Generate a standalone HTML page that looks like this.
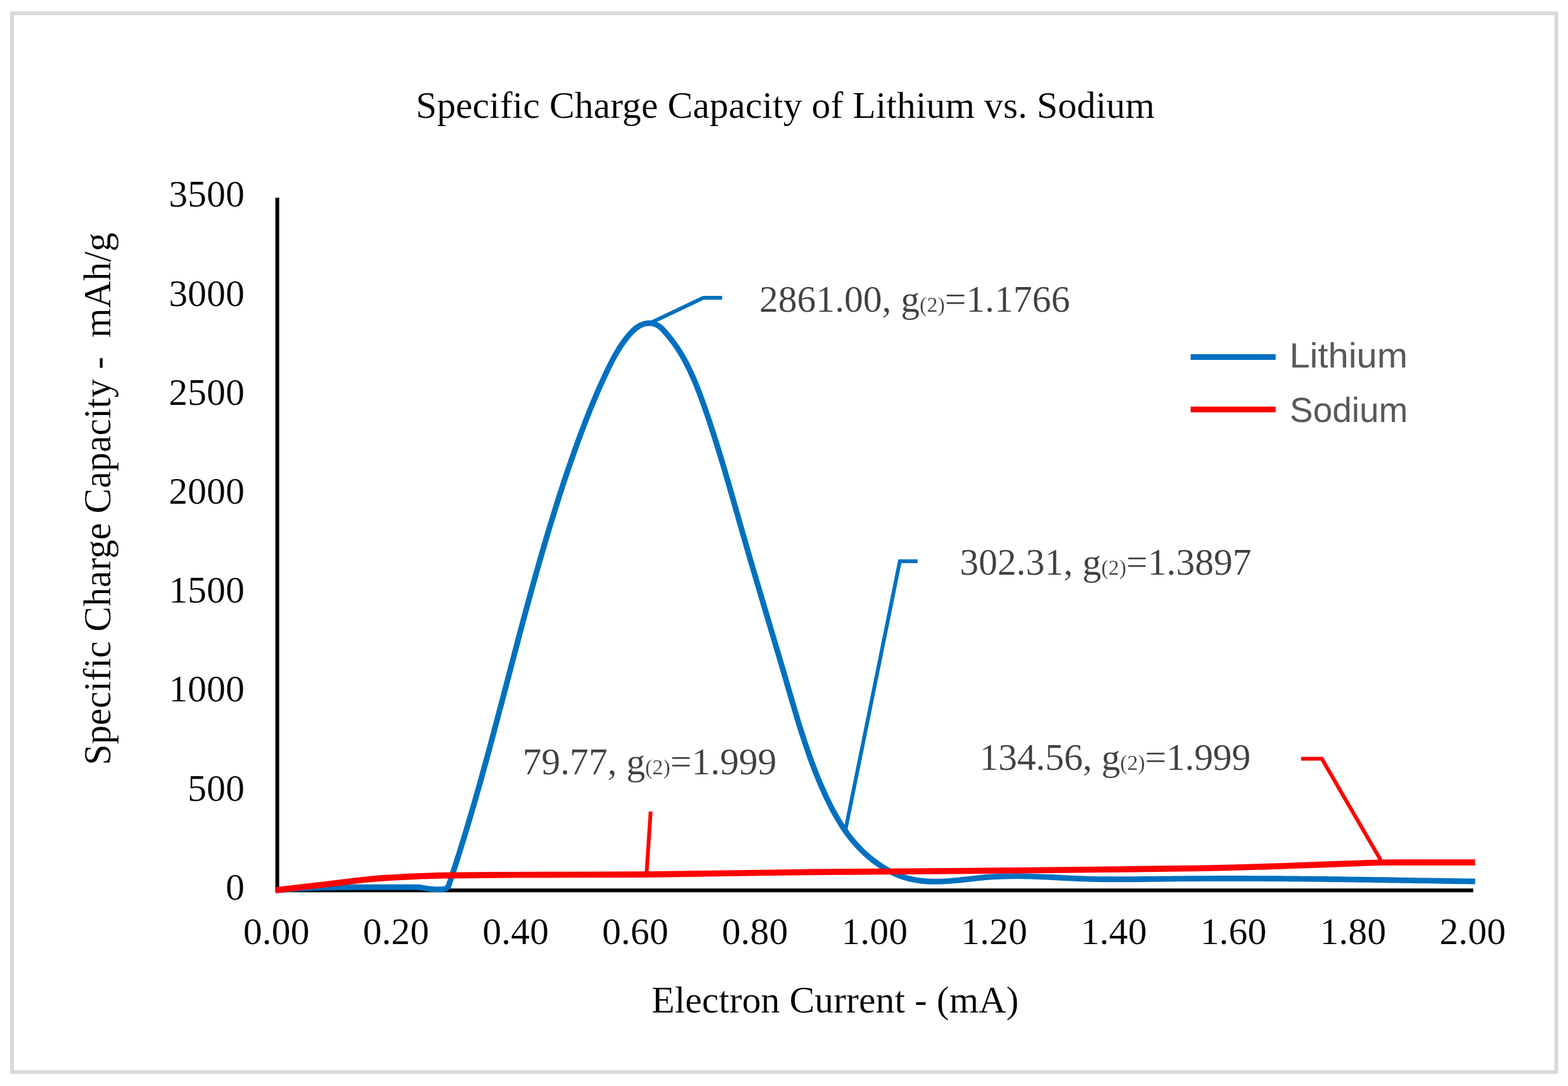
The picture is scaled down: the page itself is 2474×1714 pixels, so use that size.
<!DOCTYPE html>
<html lang="en">
<head>
<meta charset="utf-8">
<title>Specific Charge Capacity of Lithium vs. Sodium</title>
<style>
html,body{margin:0;padding:0;background:#fff;overflow:hidden}
svg{display:block}
text{white-space:pre}
</style>
</head>
<body>
<svg width="2474" height="1714" viewBox="0 0 2474 1714" role="img" aria-label="Line chart: Specific Charge Capacity of Lithium vs. Sodium">
<rect x="0" y="0" width="2474" height="1714" fill="#ffffff"/>
<!-- chart frame -->
<rect x="19" y="21" width="2436.5" height="1671" fill="none" stroke="#d9d9d9" stroke-width="6"/>
<!-- titles and axis labels -->
<g font-family="'Liberation Serif','DejaVu Serif',serif" font-size="59.8" fill="#000000" stroke="#ffffff" stroke-width="0.20">
<text id="title" x="655.9" y="185.6" textLength="1166" lengthAdjust="spacing">Specific Charge Capacity of Lithium vs. Sodium</text>
<text id="ytitle" transform="translate(173.6,1207.8) rotate(-90) scale(1,1.03)" textLength="840.8" lengthAdjust="spacing" xml:space="preserve">Specific Charge Capacity -  mAh/g</text>
<text id="xtitle" x="1027.9" y="1597.5" textLength="579.5" lengthAdjust="spacing">Electron Current - (mA)</text>
<text class="yt" x="385.8" y="1419.7" text-anchor="end">0</text>
<text class="yt" x="385.8" y="1263.5" text-anchor="end">500</text>
<text class="yt" x="385.8" y="1107.3" text-anchor="end">1000</text>
<text class="yt" x="385.8" y="951.1" text-anchor="end">1500</text>
<text class="yt" x="385.8" y="795.0" text-anchor="end">2000</text>
<text class="yt" x="385.8" y="638.8" text-anchor="end">2500</text>
<text class="yt" x="385.8" y="482.6" text-anchor="end">3000</text>
<text class="yt" x="385.8" y="326.4" text-anchor="end">3500</text>
<text class="xt" x="436.0" y="1489.8" text-anchor="middle">0.00</text>
<text class="xt" x="624.8" y="1489.8" text-anchor="middle">0.20</text>
<text class="xt" x="813.5" y="1489.8" text-anchor="middle">0.40</text>
<text class="xt" x="1002.3" y="1489.8" text-anchor="middle">0.60</text>
<text class="xt" x="1191.0" y="1489.8" text-anchor="middle">0.80</text>
<text class="xt" x="1379.8" y="1489.8" text-anchor="middle">1.00</text>
<text class="xt" x="1568.5" y="1489.8" text-anchor="middle">1.20</text>
<text class="xt" x="1757.3" y="1489.8" text-anchor="middle">1.40</text>
<text class="xt" x="1946.0" y="1489.8" text-anchor="middle">1.60</text>
<text class="xt" x="2134.8" y="1489.8" text-anchor="middle">1.80</text>
<text class="xt" x="2323.5" y="1489.8" text-anchor="middle">2.00</text>
</g>
<!-- axes -->
<path d="M437.5,311.9 V1405.2" stroke="#000" stroke-width="6.0" fill="none"/>
<path d="M434.5,1405.2 H2324.5" stroke="#000" stroke-width="6.0" fill="none"/>
<!-- series: Lithium -->
<path id="li" d="M434.8,1405.2 C440.7,1404.8 457.5,1403.3 470.0,1402.6 C482.5,1401.9 495.0,1401.2 510.0,1400.8 C525.0,1400.4 543.3,1400.3 560.0,1400.2 C576.7,1400.1 595.3,1400.1 610.0,1400.1 C624.7,1400.1 639.3,1400.0 648.0,1400.1 C656.7,1400.2 657.7,1400.1 662.0,1400.5 C666.3,1400.9 670.0,1401.9 674.0,1402.4 C678.0,1402.9 682.2,1403.4 686.0,1403.6 C689.8,1403.8 694.2,1403.8 697.0,1403.6 C699.8,1403.4 701.3,1403.3 703.0,1402.6 C704.7,1401.9 706.7,1399.7 707.4,1399.2 C708.1,1397.1 710.2,1390.9 711.5,1386.8 C712.9,1382.7 714.3,1378.6 715.6,1374.4 C717.0,1370.3 718.3,1366.2 719.6,1362.1 C720.9,1357.9 722.3,1353.8 723.6,1349.7 C724.9,1345.5 726.2,1341.4 727.4,1337.2 C728.7,1333.1 730.0,1328.9 731.3,1324.8 C732.6,1320.7 733.8,1316.5 735.1,1312.3 C736.3,1308.2 737.6,1304.0 738.8,1299.9 C740.0,1295.7 741.3,1291.6 742.5,1287.4 C743.7,1283.2 744.9,1279.1 746.1,1274.9 C747.4,1270.7 748.6,1266.6 749.8,1262.4 C750.9,1258.2 752.1,1254.1 753.3,1249.9 C754.5,1245.7 755.7,1241.5 756.9,1237.4 C758.0,1233.2 759.2,1229.0 760.4,1224.8 C761.5,1220.6 762.7,1216.5 763.8,1212.3 C765.0,1208.1 766.1,1203.9 767.3,1199.7 C768.4,1195.5 769.5,1191.3 770.7,1187.2 C771.8,1183.0 772.9,1178.8 774.1,1174.6 C775.2,1170.4 776.3,1166.2 777.4,1162.0 C778.6,1157.8 779.7,1153.6 780.8,1149.4 C781.9,1145.2 783.0,1141.1 784.1,1136.9 C785.2,1132.7 786.3,1128.5 787.4,1124.3 C788.5,1120.1 789.7,1115.9 790.8,1111.7 C791.9,1107.5 793.0,1103.3 794.1,1099.1 C795.2,1094.9 796.3,1090.7 797.4,1086.5 C798.5,1082.3 799.6,1078.1 800.7,1073.9 C801.8,1069.7 802.9,1065.5 804.0,1061.3 C805.1,1057.1 806.2,1052.9 807.3,1048.7 C808.4,1044.5 809.5,1040.3 810.6,1036.1 C811.7,1031.9 812.8,1027.7 813.9,1023.5 C815.0,1019.4 816.1,1015.2 817.2,1011.0 C818.3,1006.8 819.4,1002.6 820.5,998.4 C821.6,994.2 822.8,990.0 823.9,985.8 C825.0,981.6 826.1,977.4 827.2,973.2 C828.4,969.0 829.5,964.9 830.6,960.7 C831.8,956.5 832.9,952.3 834.0,948.1 C835.2,943.9 836.3,939.7 837.5,935.5 C838.6,931.4 839.8,927.2 840.9,923.0 C842.1,918.8 843.3,914.6 844.4,910.5 C845.6,906.3 846.8,902.1 848.0,897.9 C849.1,893.8 850.3,889.6 851.5,885.4 C852.7,881.2 853.9,877.1 855.1,872.9 C856.3,868.7 857.5,864.6 858.8,860.4 C860.0,856.2 861.2,852.1 862.4,847.9 C863.7,843.8 864.9,839.6 866.2,835.5 C867.4,831.3 868.7,827.1 870.0,823.0 C871.2,818.8 872.5,814.7 873.8,810.6 C875.1,806.4 876.4,802.3 877.7,798.1 C879.0,794.0 880.3,789.9 881.6,785.7 C882.9,781.6 884.3,777.5 885.6,773.3 C886.9,769.2 888.3,765.1 889.6,761.0 C891.0,756.9 892.4,752.7 893.8,748.6 C895.2,744.5 896.5,740.4 898.0,736.3 C899.4,732.2 900.8,728.1 902.2,724.0 C903.6,719.9 905.1,715.8 906.5,711.7 C908.0,707.6 909.4,703.5 910.9,699.5 C912.4,695.4 913.9,691.3 915.4,687.2 C916.9,683.2 918.4,679.1 920.0,675.1 C921.5,671.0 923.1,667.0 924.6,662.9 C926.2,658.9 927.8,654.8 929.4,650.8 C931.0,646.8 932.7,642.8 934.3,638.7 C936.0,634.7 937.6,630.7 939.3,626.7 C941.0,622.7 942.8,618.8 944.5,614.8 C946.2,610.8 948.0,606.8 949.8,602.9 C951.6,598.9 953.4,595.0 955.2,591.1 C957.1,587.1 958.9,583.2 960.9,579.3 C962.8,575.4 964.7,571.5 966.7,567.7 C968.8,563.9 970.8,560.1 973.1,556.3 C975.3,552.6 977.5,548.9 979.9,545.3 C982.4,541.7 984.9,538.1 987.5,534.7 C990.2,531.3 992.9,527.9 996.0,524.8 C999.0,521.7 1002.2,518.6 1005.7,516.3 C1009.3,513.9 1013.4,511.8 1017.5,510.8 C1021.6,509.9 1026.3,509.6 1030.4,510.5 C1034.5,511.4 1038.4,513.8 1041.8,516.3 C1045.3,518.9 1048.0,522.5 1050.8,525.7 C1053.7,529.0 1056.5,532.3 1059.1,535.8 C1061.8,539.2 1064.3,542.7 1066.7,546.3 C1069.2,549.9 1071.5,553.5 1073.8,557.2 C1076.0,560.9 1078.2,564.7 1080.3,568.5 C1082.4,572.3 1084.4,576.2 1086.3,580.1 C1088.2,584.0 1090.0,587.9 1091.8,591.9 C1093.6,595.8 1095.3,599.8 1097.0,603.8 C1098.7,607.8 1100.3,611.8 1101.8,615.9 C1103.4,619.9 1104.9,624.0 1106.4,628.1 C1107.9,632.1 1109.4,636.2 1110.8,640.3 C1112.3,644.4 1113.7,648.5 1115.1,652.6 C1116.5,656.7 1117.9,660.8 1119.2,664.9 C1120.6,669.1 1122.0,673.2 1123.3,677.3 C1124.7,681.4 1126.0,685.6 1127.3,689.7 C1128.6,693.8 1129.9,698.0 1131.2,702.1 C1132.5,706.3 1133.8,710.4 1135.1,714.5 C1136.3,718.7 1137.6,722.8 1138.8,727.0 C1140.1,731.2 1141.3,735.3 1142.6,739.5 C1143.8,743.6 1145.0,747.8 1146.2,752.0 C1147.4,756.1 1148.7,760.3 1149.9,764.5 C1151.1,768.6 1152.3,772.8 1153.5,777.0 C1154.7,781.1 1155.9,785.3 1157.1,789.5 C1158.2,793.7 1159.4,797.8 1160.6,802.0 C1161.8,806.2 1163.0,810.3 1164.2,814.5 C1165.4,818.7 1166.5,822.9 1167.7,827.0 C1168.9,831.2 1170.1,835.4 1171.3,839.6 C1172.5,843.7 1173.7,847.9 1174.9,852.1 C1176.1,856.2 1177.3,860.4 1178.5,864.6 C1179.7,868.7 1180.9,872.9 1182.1,877.1 C1183.3,881.2 1184.5,885.4 1185.8,889.6 C1187.0,893.7 1188.2,897.9 1189.4,902.1 C1190.7,906.2 1191.9,910.4 1193.1,914.5 C1194.3,918.7 1195.6,922.9 1196.8,927.0 C1198.0,931.2 1199.3,935.4 1200.5,939.5 C1201.7,943.7 1203.0,947.8 1204.2,952.0 C1205.4,956.2 1206.7,960.3 1207.9,964.5 C1209.1,968.6 1210.4,972.8 1211.6,976.9 C1212.8,981.1 1214.1,985.3 1215.3,989.4 C1216.5,993.6 1217.8,997.7 1219.0,1001.9 C1220.3,1006.1 1221.5,1010.2 1222.7,1014.4 C1224.0,1018.5 1225.2,1022.7 1226.4,1026.9 C1227.7,1031.0 1228.9,1035.2 1230.1,1039.3 C1231.3,1043.5 1232.6,1047.7 1233.8,1051.8 C1235.0,1056.0 1236.2,1060.2 1237.5,1064.3 C1238.7,1068.5 1239.9,1072.6 1241.1,1076.8 C1242.3,1081.0 1243.5,1085.1 1244.7,1089.3 C1246.0,1093.5 1247.2,1097.6 1248.4,1101.8 C1249.6,1106.0 1250.8,1110.1 1252.1,1114.3 C1253.3,1118.5 1254.5,1122.6 1255.8,1126.8 C1257.0,1130.9 1258.3,1135.1 1259.5,1139.2 C1260.8,1143.4 1262.1,1147.5 1263.4,1151.7 C1264.7,1155.8 1266.0,1159.9 1267.4,1164.0 C1268.7,1168.2 1270.1,1172.3 1271.5,1176.4 C1272.9,1180.5 1274.3,1184.6 1275.7,1188.7 C1277.1,1192.8 1278.6,1196.9 1280.1,1201.0 C1281.6,1205.0 1283.1,1209.1 1284.7,1213.1 C1286.2,1217.2 1287.8,1221.2 1289.4,1225.3 C1291.1,1229.3 1292.7,1233.3 1294.4,1237.3 C1296.1,1241.3 1297.9,1245.3 1299.7,1249.2 C1301.4,1253.2 1303.3,1257.1 1305.1,1261.0 C1307.0,1264.9 1308.9,1268.8 1310.9,1272.7 C1312.9,1276.5 1314.9,1280.4 1317.0,1284.2 C1319.1,1288.0 1321.3,1291.7 1323.5,1295.4 C1325.8,1299.2 1328.1,1302.8 1330.5,1306.5 C1332.9,1310.1 1335.3,1313.6 1337.9,1317.1 C1340.5,1320.6 1343.2,1324.0 1346.0,1327.3 C1348.8,1330.6 1351.7,1333.9 1354.7,1337.0 C1357.7,1340.2 1360.7,1343.2 1363.9,1346.2 C1367.1,1349.1 1370.4,1352.0 1373.7,1354.8 C1377.1,1357.5 1380.5,1360.2 1384.0,1362.7 C1387.6,1365.2 1391.2,1367.6 1394.9,1369.8 C1398.6,1372.1 1402.4,1374.2 1406.3,1376.2 C1410.1,1378.1 1414.1,1379.9 1418.1,1381.5 C1422.2,1383.1 1426.3,1384.5 1430.4,1385.7 C1434.6,1386.9 1438.8,1387.9 1443.1,1388.7 C1447.4,1389.5 1451.7,1390.1 1456.0,1390.5 C1460.3,1390.9 1464.7,1391.2 1469.0,1391.3 C1473.3,1391.4 1477.7,1391.4 1482.0,1391.3 C1486.3,1391.2 1490.7,1390.9 1495.0,1390.6 C1499.3,1390.4 1503.7,1390.0 1508.0,1389.6 C1512.3,1389.2 1516.6,1388.7 1520.9,1388.3 C1525.2,1387.8 1529.5,1387.3 1533.9,1386.8 C1538.2,1386.4 1542.5,1385.9 1546.8,1385.5 C1551.1,1385.0 1555.4,1384.6 1559.8,1384.3 C1564.1,1384.0 1568.4,1383.7 1572.8,1383.5 C1577.1,1383.2 1581.4,1383.1 1585.8,1383.0 C1590.1,1382.9 1594.4,1382.8 1598.8,1382.8 C1603.1,1382.8 1607.5,1382.8 1611.8,1382.8 C1616.1,1382.9 1620.5,1383.0 1624.8,1383.1 C1629.1,1383.3 1633.5,1383.4 1637.8,1383.6 C1642.1,1383.7 1646.5,1383.9 1650.8,1384.1 C1655.2,1384.3 1659.5,1384.6 1663.8,1384.8 C1668.2,1385.0 1672.5,1385.2 1676.8,1385.5 C1681.1,1385.7 1685.5,1385.9 1689.8,1386.1 C1694.2,1386.3 1698.5,1386.5 1702.8,1386.7 C1707.2,1386.8 1711.5,1387.0 1715.8,1387.1 C1720.2,1387.3 1724.5,1387.4 1728.8,1387.5 C1733.2,1387.5 1737.5,1387.6 1741.9,1387.7 C1746.2,1387.7 1750.5,1387.8 1754.9,1387.8 C1759.2,1387.8 1763.5,1387.8 1767.9,1387.8 C1772.2,1387.8 1776.6,1387.8 1780.9,1387.8 C1785.2,1387.8 1789.6,1387.7 1793.9,1387.7 C1798.3,1387.6 1802.6,1387.6 1806.9,1387.5 C1811.3,1387.5 1815.6,1387.4 1819.9,1387.4 C1824.3,1387.3 1828.6,1387.3 1833.0,1387.2 C1837.3,1387.2 1841.6,1387.1 1846.0,1387.1 C1850.3,1387.0 1854.7,1387.0 1859.0,1386.9 C1863.3,1386.9 1867.7,1386.8 1872.0,1386.8 C1876.4,1386.8 1880.7,1386.7 1885.0,1386.7 C1889.4,1386.7 1893.7,1386.7 1898.0,1386.6 C1902.4,1386.6 1906.7,1386.6 1911.1,1386.6 C1915.4,1386.6 1919.7,1386.5 1924.1,1386.5 C1928.4,1386.5 1932.8,1386.5 1937.1,1386.5 C1941.4,1386.5 1945.8,1386.5 1950.1,1386.5 C1954.4,1386.5 1958.8,1386.5 1963.1,1386.5 C1967.5,1386.6 1971.8,1386.6 1976.1,1386.6 C1980.5,1386.6 1984.8,1386.6 1989.2,1386.6 C1993.5,1386.7 1997.8,1386.7 2002.2,1386.7 C2006.5,1386.7 2010.8,1386.8 2015.2,1386.8 C2019.5,1386.8 2023.9,1386.8 2028.2,1386.9 C2032.5,1386.9 2036.9,1387.0 2041.2,1387.0 C2045.6,1387.0 2049.9,1387.1 2054.2,1387.1 C2058.6,1387.2 2062.9,1387.2 2067.3,1387.2 C2071.6,1387.3 2075.9,1387.3 2080.3,1387.4 C2084.6,1387.4 2088.9,1387.5 2093.3,1387.5 C2097.6,1387.6 2102.0,1387.7 2106.3,1387.7 C2110.6,1387.8 2115.0,1387.8 2119.3,1387.9 C2123.7,1387.9 2128.0,1388.0 2132.3,1388.1 C2136.7,1388.1 2141.0,1388.2 2145.3,1388.3 C2149.7,1388.3 2154.0,1388.4 2158.4,1388.4 C2162.7,1388.5 2167.0,1388.6 2171.4,1388.6 C2175.7,1388.7 2180.0,1388.8 2184.4,1388.8 C2188.7,1388.9 2193.1,1389.0 2197.4,1389.0 C2201.7,1389.1 2206.1,1389.2 2210.4,1389.3 C2214.8,1389.3 2219.1,1389.4 2223.4,1389.5 C2227.8,1389.5 2232.1,1389.6 2236.4,1389.7 C2240.8,1389.7 2245.1,1389.8 2249.5,1389.9 C2253.8,1390.0 2258.1,1390.0 2262.5,1390.1 C2266.8,1390.2 2271.1,1390.2 2275.5,1390.3 C2279.8,1390.4 2284.2,1390.5 2288.5,1390.5 C2292.8,1390.6 2297.2,1390.7 2301.5,1390.7 C2305.9,1390.8 2310.2,1390.9 2314.5,1390.9 C2318.9,1391.0 2325.4,1391.1 2327.5,1391.1" stroke="#0070c0" stroke-width="8.9" fill="none" stroke-linejoin="round" stroke-linecap="butt"/>
<!-- series: Sodium -->
<path id="na" d="M434.8,1404.9 C447.3,1403.5 485.5,1399.1 510.0,1396.2 C534.5,1393.3 560.3,1389.8 582.0,1387.7 C603.7,1385.7 619.3,1384.9 640.0,1383.9 C660.7,1382.9 669.3,1382.1 706.0,1381.6 C742.7,1381.0 807.3,1380.8 860.0,1380.6 C912.7,1380.3 952.0,1380.8 1022.0,1380.1 C1092.0,1379.4 1200.3,1377.3 1280.0,1376.4 C1359.7,1375.5 1430.0,1375.4 1500.0,1374.8 C1570.0,1374.2 1633.3,1373.6 1700.0,1372.8 C1766.7,1372.0 1850.0,1371.1 1900.0,1370.2 C1950.0,1369.3 1968.2,1368.6 2000.0,1367.6 C2031.8,1366.6 2066.0,1365.3 2091.0,1364.4 C2116.0,1363.5 2134.7,1362.7 2150.0,1362.2 C2165.3,1361.7 2169.7,1361.4 2183.0,1361.2 C2196.3,1361.0 2205.9,1361.1 2230.0,1361.1 C2254.1,1361.1 2311.1,1361.1 2327.3,1361.1" stroke="#ff0000" stroke-width="9.6" fill="none" stroke-linejoin="round" stroke-linecap="butt"/>
<!-- leader lines -->
<path d="M1023.5,511 L1109.7,470 H1139.4" stroke="#0070c0" stroke-width="6.0" fill="none"/>
<path d="M1334,1310 L1419.8,885.7 H1447.7" stroke="#0070c0" stroke-width="6.0" fill="none"/>
<path d="M1026.6,1280.8 L1020.2,1378" stroke="#ff0000" stroke-width="6.0" fill="none"/>
<path d="M2052.8,1197.6 H2085.6 L2180,1360" stroke="#ff0000" stroke-width="6.0" fill="none"/>
<!-- data labels -->
<g font-family="'Liberation Serif','DejaVu Serif',serif" font-size="59.8" fill="#404040" stroke="#ffffff" stroke-width="0.20">
<text id="dl1" x="1197.9" y="491.9" textLength="490.4" lengthAdjust="spacing">2861.00, g<tspan font-size="34.2">(2)</tspan>=1.1766</text>
<text id="dl2" x="1514.2" y="907.4" textLength="460.5" lengthAdjust="spacing">302.31, g<tspan font-size="34.2">(2)</tspan>=1.3897</text>
<text id="dl3" x="824.4" y="1221.8" textLength="401.0" lengthAdjust="spacing">79.77, g<tspan font-size="34.2">(2)</tspan>=1.999</text>
<text id="dl4" x="1545.4" y="1215.2" textLength="428.0" lengthAdjust="spacing">134.56, g<tspan font-size="34.2">(2)</tspan>=1.999</text>
</g>
<!-- legend -->
<path d="M1878.6,563.5 H2012.8" stroke="#0070c0" stroke-width="9" fill="none"/>
<path d="M1878.6,646.2 H2012.8" stroke="#ff0000" stroke-width="9" fill="none"/>
<g font-family="'Liberation Sans','DejaVu Sans',sans-serif" font-size="54.6" fill="#595959">
<text id="lg1" x="2034.4" y="579.8" textLength="186.6" lengthAdjust="spacingAndGlyphs">Lithium</text>
<text id="lg2" x="2035" y="665.5" textLength="186.2" lengthAdjust="spacingAndGlyphs">Sodium</text>
</g>
</svg>
</body>
</html>
